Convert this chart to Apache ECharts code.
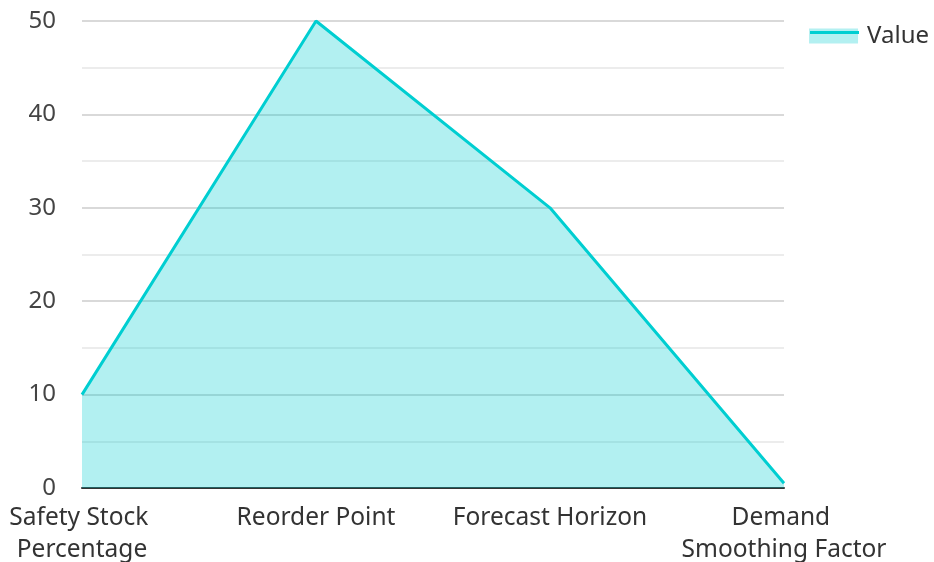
<!DOCTYPE html>
<html>
<head>
<meta charset="utf-8">
<script src="https://cdn.jsdelivr.net/npm/echarts@6/dist/echarts.min.js"></script>
<style>html,body{margin:0;padding:0;background:#fff}#c{width:934px;height:562px}</style>
</head>
<body>
<div id="c"></div>
<script>
var categories = ["Safety Stock Percentage", "Reorder Point", "Forecast Horizon", "Demand Smoothing Factor"];
var values = [10, 50, 30, 0.5];
var yTicks = [0, 10, 20, 30, 40, 50];

var chart = echarts.init(document.getElementById('c'), null, {renderer: 'canvas'});
chart.setOption({
  animation: false,
  textStyle: {fontFamily: 'Noto Sans'},
  legend: {
    right: 0, top: 19,
    itemWidth: 49, itemHeight: 15, itemGap: 10,
    icon: 'rect',
    itemStyle: {color: '#B3F0F1', borderWidth: 0},
    textStyle: {fontSize: 24, color: '#333', fontFamily: 'Noto Sans', padding: [0, 0, 0, 4]},
    data: ['Value']
  },
  graphic: [{
    type: 'rect', left: 810, top: 31, z: 100,
    shape: {width: 49, height: 3},
    style: {fill: '#00CED1'}
  }],
  grid: {left: 82, right: 150, top: 21, bottom: 74, containLabel: false, outerBoundsMode: 'none'},
  xAxis: {
    type: 'category',
    data: categories,
    boundaryGap: false,
    axisLine: {lineStyle: {color: '#333', width: 2}},
    axisTick: {show: false},
    axisLabel: {
      fontSize: 24.5, color: '#333', fontFamily: 'Noto Sans', margin: 14, lineHeight: 32,
      interval: 0, width: 215, overflow: 'break'
    }
  },
  yAxis: {
    type: 'value',
    min: yTicks[0], max: yTicks[yTicks.length - 1], interval: 10,
    axisLine: {show: false},
    axisTick: {show: false},
    axisLabel: {fontSize: 24, color: '#444', fontFamily: 'Noto Sans', margin: 26},
    splitLine: {lineStyle: {color: '#cccccc', width: 1.5}},
    minorTick: {show: false, splitNumber: 2},
    minorSplitLine: {show: true, lineStyle: {color: '#e6e6e6', width: 1.5}}
  },
  series: [{
    name: 'Value',
    type: 'line',
    data: values,
    symbol: 'none',
    lineStyle: {color: '#00CED1', width: 3},
    itemStyle: {color: '#00CED1'},
    areaStyle: {color: '#00CED1', opacity: 0.3}
  }]
});
</script>
</body>
</html>
